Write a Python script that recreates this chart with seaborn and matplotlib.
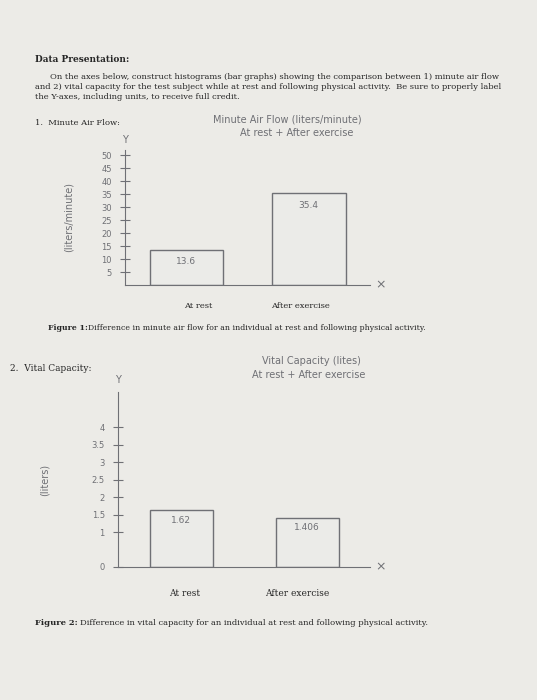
import matplotlib
matplotlib.use("Agg")
import matplotlib.pyplot as plt
import seaborn as sns
import pandas as pd

sns.set_style("white", {"ytick.left": True})
plt.rcParams['font.family'] = ['DejaVu Serif']

# Data
categories = ["At rest", "After exercise"]
air_flow = [13.6, 35.4]
air_ticks = [5, 10, 15, 20, 25, 30, 35, 40, 45, 50]
vital = [1.62, 1.406]
vital_ticks = [0, 1, 1.5, 2, 2.5, 3, 3.5, 4]

W, H = 537, 700
paper = "#ecebe7"
ink = "#6f7075"
fig = plt.figure(figsize=(W / 100, H / 100), dpi=100, facecolor=paper)

def px(x0, y0, x1, y1):
    return [x0 / W, 1 - y1 / H, (x1 - x0) / W, (y1 - y0) / H]

# Header text
fig.text(35 / W, 1 - 62 / H, "Data Presentation:", fontsize=6.5, fontweight='bold')
fig.text(50 / W, 1 - 79 / H,
         "On the axes below, construct histograms (bar graphs) showing the comparison between 1) minute air flow",
         fontsize=6)
fig.text(35 / W, 1 - 89 / H,
         "and 2) vital capacity for the test subject while at rest and following physical activity.  Be sure to properly label",
         fontsize=6)
fig.text(35 / W, 1 - 99 / H, "the Y-axes, including units, to receive full credit.", fontsize=6)
fig.text(35 / W, 1 - 125 / H, "1.  Minute Air Flow:", fontsize=6)
fig.text(213 / W, 1 - 122 / H, "Minute Air Flow (liters/minute)", fontsize=7, color=ink, family='DejaVu Sans')
fig.text(240 / W, 1 - 136 / H, "At rest + After exercise", fontsize=7, color=ink, family='DejaVu Sans')


def style_axis(ax, ticks, ylabel, pad):
    ax.set_yticks(ticks)
    ax.set_yticklabels([str(t) for t in ticks], fontsize=6, color=ink, family='DejaVu Sans')
    ax.set_xticks([])
    ax.set_xlabel("")
    ax.set_ylabel(ylabel, fontsize=7, color=ink, family='DejaVu Sans', labelpad=pad)
    for s in ["top", "right"]:
        ax.spines[s].set_visible(False)
    for s in ["left", "bottom"]:
        ax.spines[s].set_color(ink)
    ax.tick_params(axis='y', left=True, direction='inout', length=7, color=ink, pad=6)
    ax.text(0, 1.04, "Y", transform=ax.transAxes, ha='center', va='bottom',
            fontsize=7, color=ink, family='DejaVu Sans')
    ax.text(1.02, 0, "×", transform=ax.transAxes, ha='left', va='center',
            fontsize=9, color=ink, family='DejaVu Sans')


# Chart 1
df1 = pd.DataFrame({"cond": categories, "val": air_flow})
ax1 = fig.add_axes(px(125, 150, 370, 285))
ax1.set_facecolor(paper)
sns.barplot(data=df1, x="cond", y="val", ax=ax1, color=paper, edgecolor=ink, linewidth=1, width=0.6)
ax1.set_ylim(0, 52)
style_axis(ax1, air_ticks, "(liters/minute)", 20)
for i, v in enumerate(air_flow):
    ax1.text(i, v - 3, str(v), ha='center', va='top', fontsize=6.5, color=ink, family='DejaVu Sans')
fig.text(198 / W, 1 - 308 / H, "At rest", fontsize=6, ha='center')
fig.text(300 / W, 1 - 308 / H, "After exercise", fontsize=6, ha='center')
fig.text(48 / W, 1 - 330 / H, "Figure 1:", fontsize=5.6, fontweight='bold')
fig.text(88 / W, 1 - 330 / H,
         "Difference in minute air flow for an individual at rest and following physical activity.", fontsize=5.6)

# Chart 2
fig.text(10 / W, 1 - 371 / H, "2.  Vital Capacity:", fontsize=6.5)
fig.text(262 / W, 1 - 364 / H, "Vital Capacity (lites)", fontsize=7, color=ink, family='DejaVu Sans')
fig.text(252 / W, 1 - 378 / H, "At rest + After exercise", fontsize=7, color=ink, family='DejaVu Sans')
df2 = pd.DataFrame({"cond": categories, "val": vital})
ax2 = fig.add_axes(px(118, 392, 370, 567))
ax2.set_facecolor(paper)
sns.barplot(data=df2, x="cond", y="val", ax=ax2, color=paper, edgecolor=ink, linewidth=1, width=0.5)
ax2.set_ylim(0, 5.0)
style_axis(ax2, vital_ticks, "(liters)", 30)
for i, v in enumerate(vital):
    ax2.text(i, v - 0.15, str(v), ha='center', va='top', fontsize=6.5, color=ink, family='DejaVu Sans')
fig.text(185 / W, 1 - 596 / H, "At rest", fontsize=6.5, ha='center')
fig.text(297 / W, 1 - 596 / H, "After exercise", fontsize=6.5, ha='center')
fig.text(35 / W, 1 - 625 / H, "Figure 2:", fontsize=6, fontweight='bold')
fig.text(80 / W, 1 - 625 / H,
         "Difference in vital capacity for an individual at rest and following physical activity.", fontsize=6)

fig.savefig("out.png", dpi=100, facecolor=paper)
